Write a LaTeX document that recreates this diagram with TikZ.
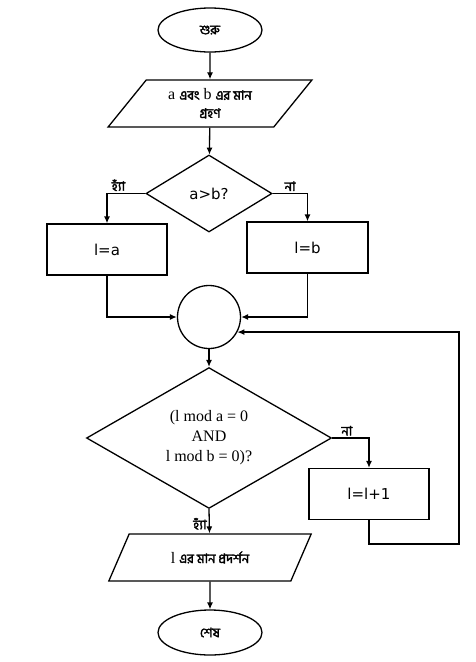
\documentclass[tikz,border=0pt]{standalone}
\usepackage{fontspec}
\setmainfont{Liberation Serif}
\setsansfont{DejaVu Sans}
\newfontfamily\bn[Script=Bengali, AutoFakeBold=2.5]{Hind Siliguri}
\usetikzlibrary{shapes.geometric,arrows.meta}
\usetikzlibrary{positioning}
\newcommand{\bt}[1]{{\bn\bfseries\fontsize{13}{14}\selectfont #1}}

\begin{document}
\begin{tikzpicture}[x=1pt,y=-1pt,
termnode/.style={ellipse, draw, line width=1.3pt, minimum width=104pt, minimum height=44pt,
font=\bn\bfseries\fontsize{13}{14}\selectfont},
ionode/.style={trapezium, trapezium left angle=50, trapezium right angle=130, trapezium stretches=true,
draw, line width=1.3pt, minimum width=204pt, minimum height=47pt, inner sep=0pt, align=center,
font=\fontsize{16}{20}\selectfont},
decnode/.style={diamond, draw, line width=1.3pt, inner sep=0pt, align=center},
procnode/.style={rectangle, draw, line width=1.3pt, minimum width=120pt, minimum height=51pt,
font=\sffamily\fontsize{15}{20}\selectfont},
joinnode/.style={circle, draw, line width=1.3pt, minimum size=63pt},
tagnode/.style={font=\bn\bfseries\fontsize{13}{14}\selectfont, inner sep=2pt},
arr/.style={line width=1.3pt, -{Latex[length=7pt,width=6pt]}}
]
\useasboundingbox (0,0) rectangle (475,662);
%Nodes
\node[termnode]  (start) at (210,30)    {শুরু};
\node[ionode]    (inp)   at (210,103.5) {a \bt{এবং} b \bt{এর মান}\\[-2pt]\bt{গ্রহণ}};
\node[decnode, minimum width=126pt, minimum height=77pt, font=\sffamily\fontsize{15}{20}\selectfont]
                 (cmp1)  at (209,193.5) {a>b?};
\node[procnode]  (seta)  at (107,249.5) {l=a};
\node[procnode, minimum width=121pt] (setb) at (307.5,247.5) {l=b};
\node[joinnode]  (join)  at (209,317)   {};
\node[decnode, minimum width=245pt, minimum height=133pt, font=\fontsize{16}{20}\selectfont]
                 (cmp2)  at (209,438)   {(l mod a = 0\\AND\\l mod b = 0)?};
\node[procnode]  (inc)   at (369,494)   {l=l+1};
\node[ionode]    (out)   at (210,557.5) {l \bt{এর মান প্রদর্শন}};
\node[termnode, minimum height=45pt] (stop) at (210,632.5) {শেষ};
\coordinate (loop) at (459,544);
%Lines
\draw[arr] (start) -- (inp);
\draw[arr] (inp) -- (cmp1);
\draw[arr] (cmp1.west) -| node[tagnode, above, pos=0.35] {হ্যাঁ} (seta.north);
\draw[arr] (cmp1.east) -| node[tagnode, above, pos=0.25] {না} (setb.north);
\draw[arr] (seta.south) |- (join.west);
\draw[arr] (setb.south) |- (join.east);
\draw[arr] (join) -- (cmp2);
\draw[arr] (cmp2.east) -| node[tagnode, above, pos=0.2] {না} (inc.north);
\draw[arr] (inc.south) |- (loop) |- (join.-28);
\draw[arr] (cmp2.south) -- node[tagnode, left, pos=0.6] {হ্যাঁ} (out);
\draw[arr] (out) -- (stop);
\end{tikzpicture}
\end{document}
